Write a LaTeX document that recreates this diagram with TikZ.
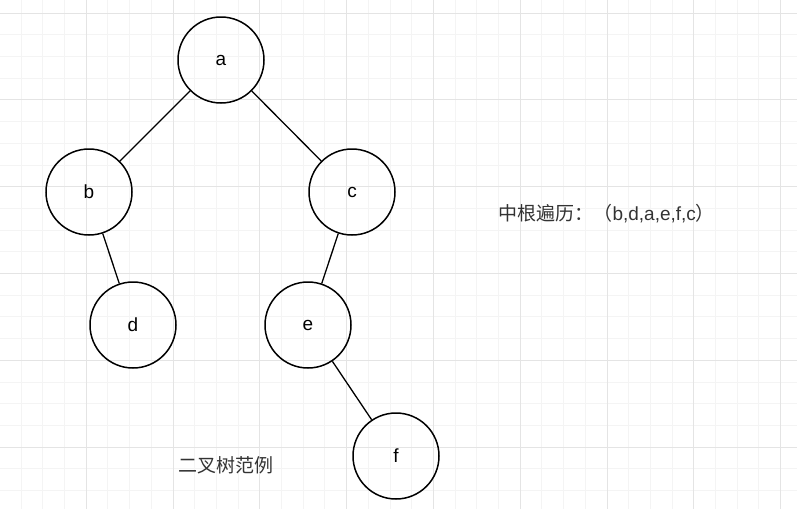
\documentclass[tikz,border=0pt]{standalone}
\usepackage{fontspec}
\setmainfont{Liberation Sans}
\newfontfamily\cjk{Noto Sans CJK SC}
\definecolor{minorg}{HTML}{F4F4F4}
\definecolor{majorg}{HTML}{E4E4E4}
\definecolor{txt}{HTML}{333333}
\begin{document}
\begin{tikzpicture}[x=1pt,y=-1pt,
  tnode/.style={circle,draw,line width=1.5pt,minimum size=86pt,inner sep=0pt,font=\fontsize{19}{19}\selectfont},
  tedge/.style={line width=1.3pt}]
\useasboundingbox (0,0) rectangle (797,509);
\foreach \i in {0,...,37}{\draw[minorg,line width=0.8pt] ({-0.7+21.7*\i},0) -- ++(0,509);}
\foreach \j in {0,...,24}{\draw[minorg,line width=0.8pt] (0,{-8.7+21.7*\j}) -- ++(797,0);}
\foreach \i in {0,...,9}{\draw[majorg,line width=0.8pt] ({-0.7+86.8*\i},0) -- ++(0,509);}
\foreach \j in {0,...,6}{\draw[majorg,line width=0.8pt] (0,{13+86.8*\j}) -- ++(797,0);}
\node[tnode] (a) at (221,60) {a};
\node[tnode] (b) at (89,192) {b};
\node[tnode] (c) at (352,192) {c};
\node[tnode] (d) at (133,325) {d};
\node[tnode] (e) at (308,325) {e};
\node[tnode] (f) at (396,456) {f};
\draw[tedge] (a) -- (b);
\draw[tedge] (a) -- (c);
\draw[tedge] (b) -- (d);
\draw[tedge] (c) -- (e);
\draw[tedge] (e) -- (f);
\node[text=txt,font=\fontsize{19}{19}\selectfont,anchor=west] (t) at (495,214) {{\cjk 中根遍历：（}b,d,a,e,f,c{\cjk ）}};
\node[text=txt,font=\cjk\fontsize{19}{19}\selectfont] (n) at (226,465) {二叉树范例};
\end{tikzpicture}
\end{document}
